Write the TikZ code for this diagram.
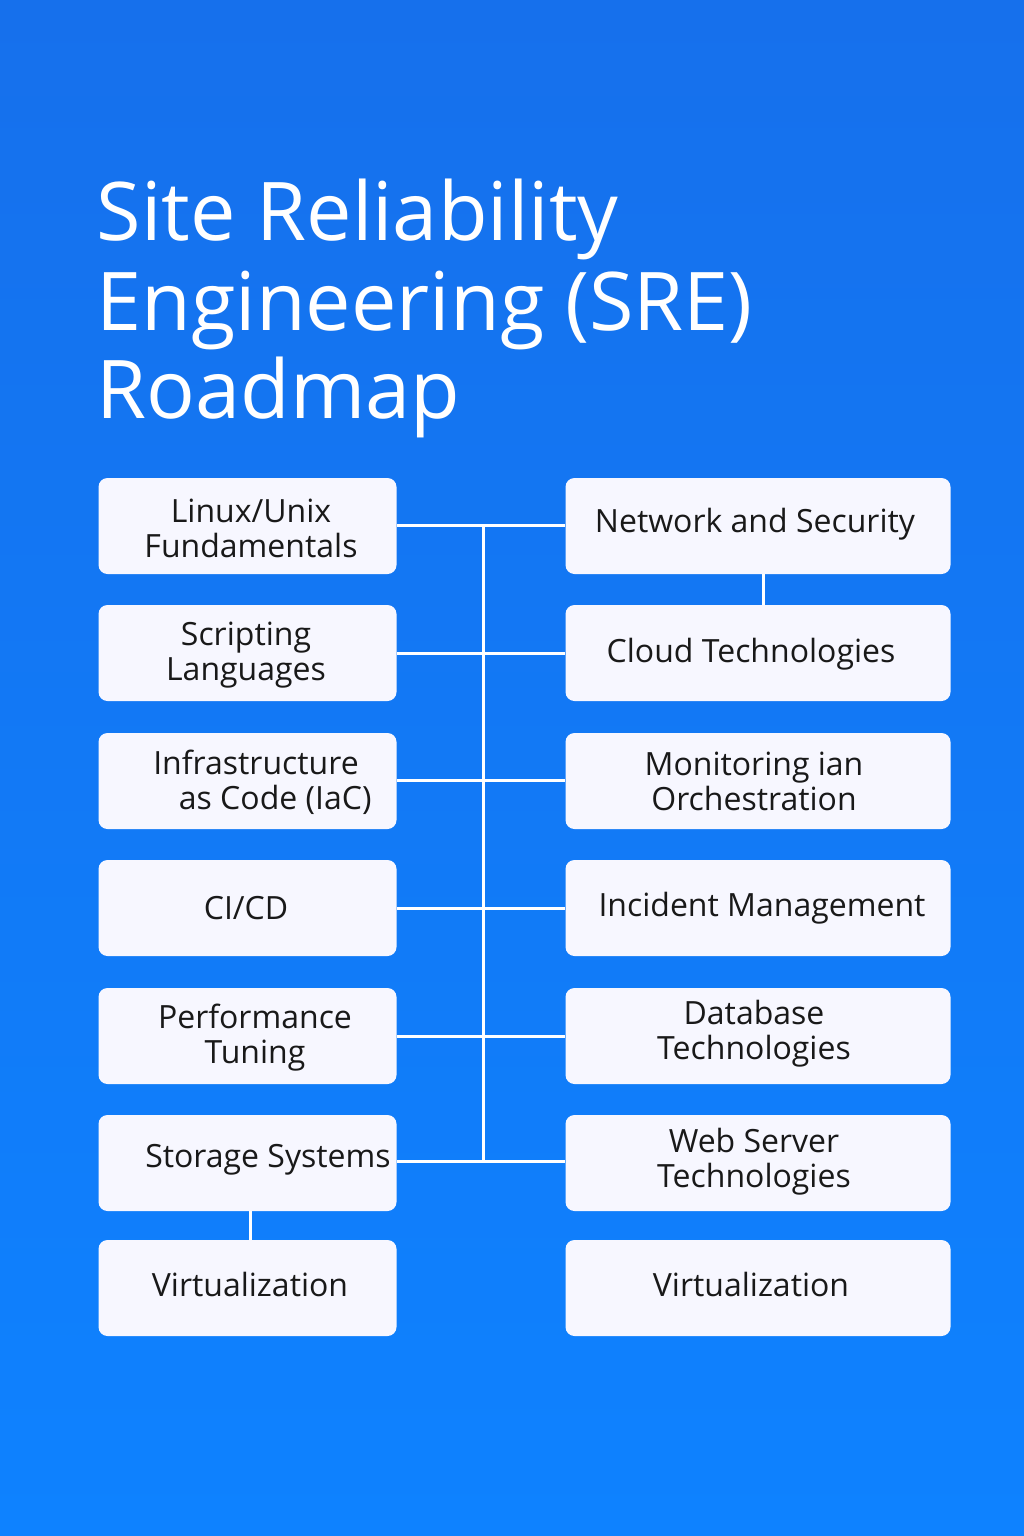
\documentclass[tikz,border=0pt]{standalone}
\usepackage{fontspec}
\setmainfont{Open Sans}
\begin{document}
\begin{tikzpicture}[x=1pt,y=-1pt,
  bx/.style={draw=none,fill=white!97!blue,rounded corners=9pt,minimum height=96pt,inner sep=0pt},
  lb/.style={font=\fontsize{32}{35}\selectfont,align=center,text=black!90},
  tt/.style={anchor=base west,text=white,font=\fontsize{81}{84}\selectfont},
  ln/.style={draw=white,line width=3pt}]
\shade[top color={rgb,255:red,22;green,112;blue,236},bottom color={rgb,255:red,14;green,130;blue,255}] (0,0) rectangle (1024,1536);
\useasboundingbox (0,0) rectangle (1024,1536);
\node[tt] (t1) at (93,240) {Site Reliability};
\node[tt] (t2) at (93,330) {Engineering (SRE)};
\node[tt] (t3) at (93,418) {Roadmap};
% rows
\foreach \n/\y in {1/526,2/653,3/781,4/908,5/1036,6/1163,7/1288}{
  \node[bx,minimum width=298pt] (L\n) at (247.5,\y) {};
  \node[bx,minimum width=385pt] (R\n) at (758,\y) {};
}
\node[lb] (l1) at (251,528) {Linux/Unix\\Fundamentals};
\node[lb] (l2) at (246,655) {Scripting\\Languages};
\node[lb] (l3) at (256,782) {Infrastructure\\\hspace*{1.2em}as Code (IaC)};
\node[lb] (l4) at (246,908) {CI/CD};
\node[lb] (l5) at (255,1038) {Performance\\Tuning};
\node[lb] (l6) at (268,1160) {Storage Systems};
\node[lb] (l7) at (250,1284) {Virtualization};
\node[lb] (r1) at (755,524) {Network and Security};
\node[lb] (r2) at (751,654) {Cloud Technologies};
\node[lb] (r3) at (754,781) {Monitoring ian\\Orchestration};
\node[lb] (r4) at (762,908) {Incident Management};
\node[lb] (r5) at (754,1034) {Database\\Technologies};
\node[lb] (r6) at (754,1162) {Web Server\\Technologies};
\node[lb] (r7) at (751,1284) {Virtualization};
% connectors
\coordinate (top) at (483,525);
\coordinate (bot) at (483,1161);
\draw[ln] (top) -- (bot);
\foreach \n/\y in {1/525,2/653,3/780,4/908,5/1036,6/1161}{
  \draw[ln] (L\n.east |- 0,\y) -- (R\n.west |- 0,\y);
}
\draw[ln] (R1.south -| 763,0) -- (R2.north -| 763,0);
\draw[ln] (L6.south -| 250,0) -- (L7.north -| 250,0);
\end{tikzpicture}
\end{document}
